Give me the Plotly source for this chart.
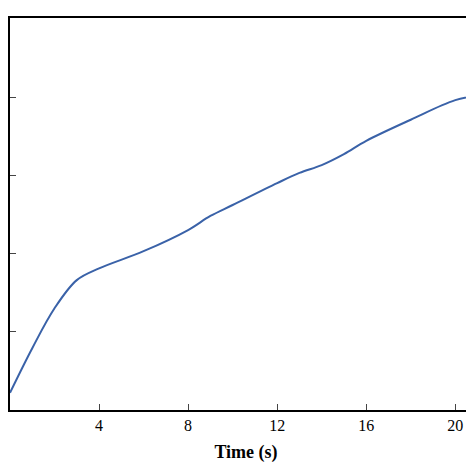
import plotly.graph_objects as go

time_s = [0, 1, 2, 3, 4, 6, 8, 9, 10, 12, 13, 14, 15, 16, 18, 20, 21.2]
value = [0.22, 0.79, 1.30, 1.66, 1.81, 2.03, 2.30, 2.48, 2.62, 2.90, 3.03, 3.13, 3.27, 3.44, 3.71, 3.96, 4.03]
x_ticks = [0, 4, 8, 12, 16, 20]
y_ticks = [1, 2, 3, 4]

fig = go.Figure(go.Scatter(x=time_s, y=value, mode="lines", line=dict(color="#3a62a8", width=2, shape="spline")))

fig.update_layout(
    width=474, height=474,
    margin=dict(l=2, r=0, t=10, b=72),
    plot_bgcolor="white", paper_bgcolor="white",
    showlegend=False,
    font=dict(family="Liberation Serif", size=16, color="black"),
    xaxis=dict(range=[0, 21.2], tickvals=x_ticks, ticks="inside", ticklen=6, automargin=False,
               showline=True, linecolor="black", linewidth=1.5, mirror=True, showgrid=False, zeroline=False,
               title=dict(text="<b>Time (s)</b>", font=dict(size=18), standoff=12),
               tickfont=dict(size=16)),
    yaxis=dict(range=[0, 5.01], tickvals=y_ticks, showticklabels=False, ticks="inside", ticklen=6, automargin=False,
               showline=True, linecolor="black", linewidth=1.5, mirror=True, showgrid=False, zeroline=False),
)

fig.write_html("out.html")
